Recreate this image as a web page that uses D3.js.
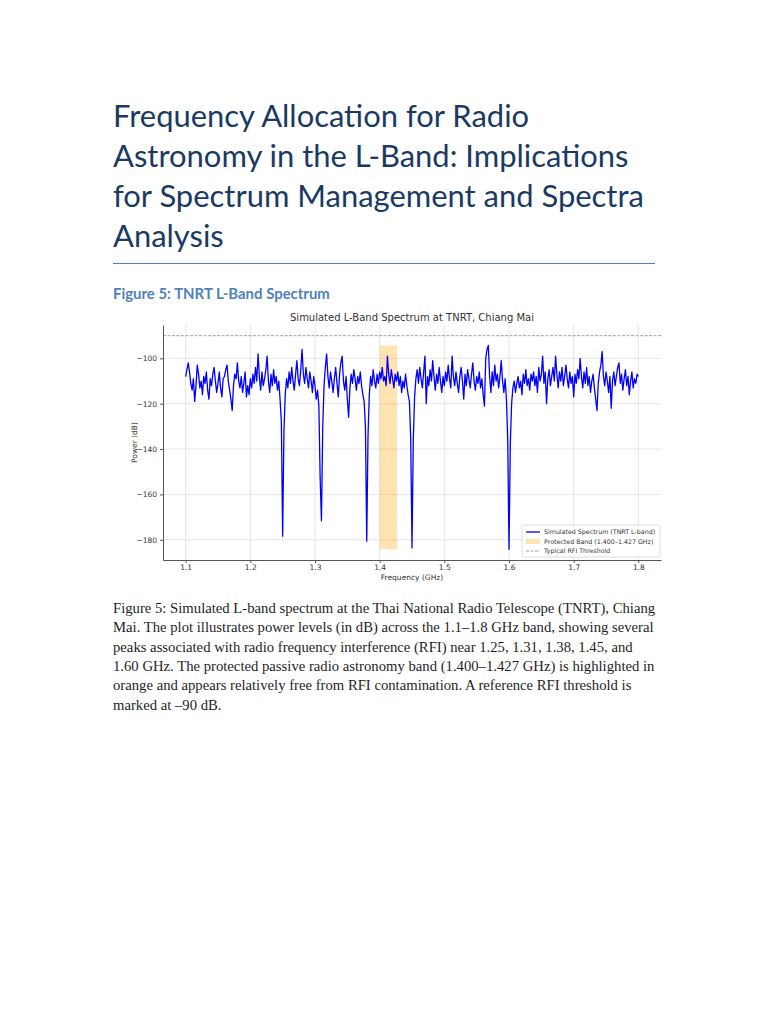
<!DOCTYPE html>
<html>
<head>
<meta charset="utf-8">
<script src="https://cdn.jsdelivr.net/npm/d3@7"></script>
<style>
  body { margin: 0; background: #fff; }
  svg { display: block; }
</style>
</head>
<body>
<svg id="page" width="768" height="1024"></svg>
<script>
// page text
const headingLines = [
  "Frequency Allocation for Radio",
  "Astronomy in the L-Band: Implications",
  "for Spectrum Management and Spectra",
  "Analysis"
];
const figureLabel = "Figure 5: TNRT L-Band Spectrum";
const captionLines = [
  "Figure 5: Simulated L-band spectrum at the Thai National Radio Telescope (TNRT), Chiang",
  "Mai. The plot illustrates power levels (in dB) across the 1.1\u20131.8 GHz band, showing several",
  "peaks associated with radio frequency interference (RFI) near 1.25, 1.31, 1.38, 1.45, and",
  "1.60 GHz. The protected passive radio astronomy band (1.400\u20131.427 GHz) is highlighted in",
  "orange and appears relatively free from RFI contamination. A reference RFI threshold is",
  "marked at \u201390 dB."
];

// chart data
const chartTitle = "Simulated L-Band Spectrum at TNRT, Chiang Mai";
const xLabel = "Frequency (GHz)";
const yLabel = "Power (dB)";
const xTicks = [1.1, 1.2, 1.3, 1.4, 1.5, 1.6, 1.7, 1.8];
const yTicks = [-100, -120, -140, -160, -180];
const freqStartGHz = 1.1;
const freqStepGHz = 0.002;
// power, one value every 2 MHz from 1.1 to 1.8 GHz
const powerDb = [
  -108, -105, -102, -106, -111, -114, -109, -119, -112, -103,
  -107, -113, -110, -116, -108, -111, -106, -114, -118, -109,
  -112, -107, -104, -110, -115, -111, -106, -113, -117, -109,
  -108, -105, -103, -110, -114, -118, -123, -112, -107, -109,
  -102, -110, -113, -108, -115, -111, -106, -117, -112, -116,
  -109, -113, -107, -111, -104, -110, -98, -108, -114, -106,
  -112, -109, -105, -99, -110, -115, -107, -112, -105, -111,
  -108, -114, -110, -118, -128, -178.4, -132, -116, -109, -113,
  -106, -111, -104, -110, -114, -107, -101, -109, -112, -105,
  -96, -107, -111, -104, -109, -113, -106, -110, -115, -108,
  -112, -118, -114, -121, -153, -171.6, -130, -112, -104, -98,
  -108, -113, -106, -110, -115, -109, -104, -111, -117, -107,
  -102, -99, -110, -114, -108, -118, -126, -113, -107, -111,
  -105, -109, -114, -108, -111, -106, -112, -116, -119, -130,
  -180.6, -134, -116, -108, -112, -105, -110, -113, -107, -111,
  -106, -109, -104, -110, -108, -112, -99, -107, -111, -105,
  -109, -113, -107, -110, -106, -112, -108, -115, -110, -113,
  -107, -112, -116, -119, -135, -183.6, -136, -117, -109, -105,
  -111, -104, -109, -113, -106, -99, -120, -108, -112, -105,
  -110, -101, -108, -114, -107, -111, -104, -110, -115, -108,
  -112, -106, -110, -103, -109, -113, -99, -108, -112, -106,
  -111, -115, -108, -104, -110, -118, -107, -112, -105, -109,
  -113, -107, -102, -110, -114, -108, -111, -106, -113, -109,
  -116, -121, -100, -96, -94.3, -108, -115, -106, -112, -103,
  -110, -107, -113, -108, -101, -110, -115, -109, -118, -136,
  -184.2, -138, -120, -113, -110, -115, -111, -108, -113, -110,
  -116, -107, -111, -105, -112, -109, -114, -107, -110, -106,
  -112, -108, -115, -104, -110, -107, -99, -111, -106, -120,
  -109, -105, -112, -108, -104, -110, -99, -107, -113, -106,
  -110, -104, -112, -108, -103, -109, -113, -106, -111, -108,
  -117, -107, -111, -105, -109, -100, -108, -113, -106, -111,
  -104, -112, -108, -115, -110, -107, -113, -118, -123, -111,
  -106, -103, -97, -108, -112, -106, -110, -115, -108, -122,
  -110, -106, -112, -108, -104, -102, -111, -107, -114, -109,
  -105, -112, -108, -116, -110, -106, -113, -109, -111, -107,
  -108
];
const protectedBandGHz = [1.400, 1.427];
const rfiThresholdDb = -90;
const legendLabels = [
  "Simulated Spectrum (TNRT L-band)",
  "Protected Band (1.400\u20131.427 GHz)",
  "Typical RFI Threshold"
];

const svg = d3.select("#page");

// size a font so that the given line comes out at the given width
function fitFontSize(text, family, weight, targetWidth) {
  const probe = svg.append("text")
    .attr("font-family", family)
    .attr("font-weight", weight)
    .attr("font-size", 100)
    .text(text);
  const w = probe.node().getComputedTextLength();
  probe.remove();
  return 100 * targetWidth / w;
}

// ---- document heading ----
const headFont = "Lato, 'Open Sans', sans-serif";
const headSize = fitFontSize(headingLines[2], headFont, 400, 531);
svg.append("g").selectAll("text")
  .data(headingLines)
  .join("text")
  .attr("x", 113)
  .attr("y", (d, i) => 127 + i * 40)
  .attr("font-family", headFont)
  .attr("font-size", headSize)
  .attr("fill", "#1b3a63")
  .text(d => d);

svg.append("line")
  .attr("x1", 113).attr("x2", 655)
  .attr("y1", 263.5).attr("y2", 263.5)
  .attr("stroke", "#4f81bd")
  .attr("stroke-width", 1);

const labelSize = fitFontSize(figureLabel, headFont, 700, 217);
svg.append("text")
  .attr("x", 113).attr("y", 299)
  .attr("font-family", headFont)
  .attr("font-weight", 700)
  .attr("font-size", labelSize)
  .attr("fill", "#4f81bd")
  .text(figureLabel);

// ---- caption ----
const capFont = "'Liberation Serif', 'DejaVu Serif', serif";
const capSize = fitFontSize(captionLines[1], capFont, 400, 541);
svg.append("g").selectAll("text")
  .data(captionLines)
  .join("text")
  .attr("x", 113)
  .attr("y", (d, i) => 613 + i * 19.3)
  .attr("font-family", capFont)
  .attr("font-size", capSize)
  .attr("fill", "#1e1e1e")
  .text(d => d);

// ---- chart ----
const chartFont = "'DejaVu Sans', sans-serif";
const data = powerDb.map((p, i) => ({ f: freqStartGHz + i * freqStepGHz, p }));

const fMin = d3.min(data, d => d.f), fMax = d3.max(data, d => d.f);
const fPad = 0.05 * (fMax - fMin);
const pLo = d3.min(powerDb), pHi = d3.max([d3.max(powerDb), rfiThresholdDb]);
const pPad = 0.05 * (pHi - pLo);

const plot = { left: 163, right: 661, top: 325, bottom: 560 };
const x = d3.scaleLinear().domain([fMin - fPad, fMax + fPad]).range([plot.left, plot.right]);
const y = d3.scaleLinear().domain([pLo - pPad, pHi + pPad]).range([plot.bottom, plot.top]);

const chart = svg.append("g");

// grid
chart.append("g").selectAll("line")
  .data(xTicks)
  .join("line")
  .attr("x1", d => x(d)).attr("x2", d => x(d))
  .attr("y1", plot.top).attr("y2", plot.bottom)
  .attr("stroke", "#e0e0e0").attr("stroke-width", 0.8);
chart.append("g").selectAll("line")
  .data(yTicks)
  .join("line")
  .attr("x1", plot.left).attr("x2", plot.right)
  .attr("y1", d => y(d)).attr("y2", d => y(d))
  .attr("stroke", "#e0e0e0").attr("stroke-width", 0.8);

// protected band, spanning the spectrum's range
chart.append("rect")
  .attr("x", x(protectedBandGHz[0]))
  .attr("width", x(protectedBandGHz[1]) - x(protectedBandGHz[0]))
  .attr("y", y(d3.max(powerDb)))
  .attr("height", y(d3.min(powerDb)) - y(d3.max(powerDb)))
  .attr("fill", "orange")
  .attr("fill-opacity", 0.3);

// spectrum
chart.append("path")
  .datum(data)
  .attr("d", d3.line().x(d => x(d.f)).y(d => y(d.p)))
  .attr("fill", "none")
  .attr("stroke", "#0000ff")
  .attr("stroke-width", 1.3)
  .attr("stroke-linejoin", "round");

// threshold
chart.append("line")
  .attr("x1", plot.left).attr("x2", plot.right)
  .attr("y1", y(rfiThresholdDb)).attr("y2", y(rfiThresholdDb))
  .attr("stroke", "#888").attr("stroke-width", 0.8)
  .attr("stroke-dasharray", "3,1.5");

// axes
const xAxis = chart.append("g")
  .attr("transform", `translate(0,${plot.bottom})`)
  .call(d3.axisBottom(x).tickValues(xTicks).tickFormat(d3.format(".1f"))
    .tickSize(3).tickPadding(2).tickSizeOuter(0));
const yAxis = chart.append("g")
  .attr("transform", `translate(${plot.left},0)`)
  .call(d3.axisLeft(y).tickValues(yTicks).tickSize(3).tickPadding(3).tickSizeOuter(0));
[xAxis, yAxis].forEach(a => {
  a.select(".domain").attr("stroke", "#555").attr("stroke-width", 1);
  a.selectAll(".tick line").attr("stroke", "#555");
  a.selectAll(".tick text")
    .attr("font-family", chartFont)
    .attr("font-size", 7.5)
    .attr("fill", "#333");
});

chart.append("text")
  .attr("x", (plot.left + plot.right) / 2).attr("y", 321)
  .attr("text-anchor", "middle")
  .attr("font-family", chartFont).attr("font-size", 10)
  .attr("fill", "#333")
  .text(chartTitle);
chart.append("text")
  .attr("x", (plot.left + plot.right) / 2).attr("y", 580)
  .attr("text-anchor", "middle")
  .attr("font-family", chartFont).attr("font-size", 7.5)
  .attr("fill", "#333")
  .text(xLabel);
chart.append("text")
  .attr("transform", `translate(137,${(plot.top + plot.bottom) / 2}) rotate(-90)`)
  .attr("text-anchor", "middle")
  .attr("font-family", chartFont).attr("font-size", 7.5)
  .attr("fill", "#333")
  .text(yLabel);

// legend
const legend = chart.append("g").attr("transform", "translate(522,525)");
legend.append("rect")
  .attr("width", 138).attr("height", 32).attr("rx", 2)
  .attr("fill", "#fff").attr("fill-opacity", 0.8)
  .attr("stroke", "#d5d5d5").attr("stroke-width", 0.8);
const rows = legend.selectAll("g.row")
  .data(legendLabels)
  .join("g")
  .attr("class", "row")
  .attr("transform", (d, i) => `translate(4,${7 + i * 9.5})`);
rows.filter((d, i) => i === 0).append("line")
  .attr("x1", 0).attr("x2", 14).attr("stroke", "#0000ff").attr("stroke-width", 1.3);
rows.filter((d, i) => i === 1).append("rect")
  .attr("x", 0).attr("y", -2.5).attr("width", 14).attr("height", 5)
  .attr("fill", "orange").attr("fill-opacity", 0.3);
rows.filter((d, i) => i === 2).append("line")
  .attr("x1", 0).attr("x2", 14).attr("stroke", "#888").attr("stroke-width", 0.8)
  .attr("stroke-dasharray", "3,1.5");
rows.append("text")
  .attr("x", 18).attr("dy", "0.35em")
  .attr("font-family", chartFont).attr("font-size", 6.3)
  .attr("fill", "#333")
  .text(d => d);
</script>
</body>
</html>
